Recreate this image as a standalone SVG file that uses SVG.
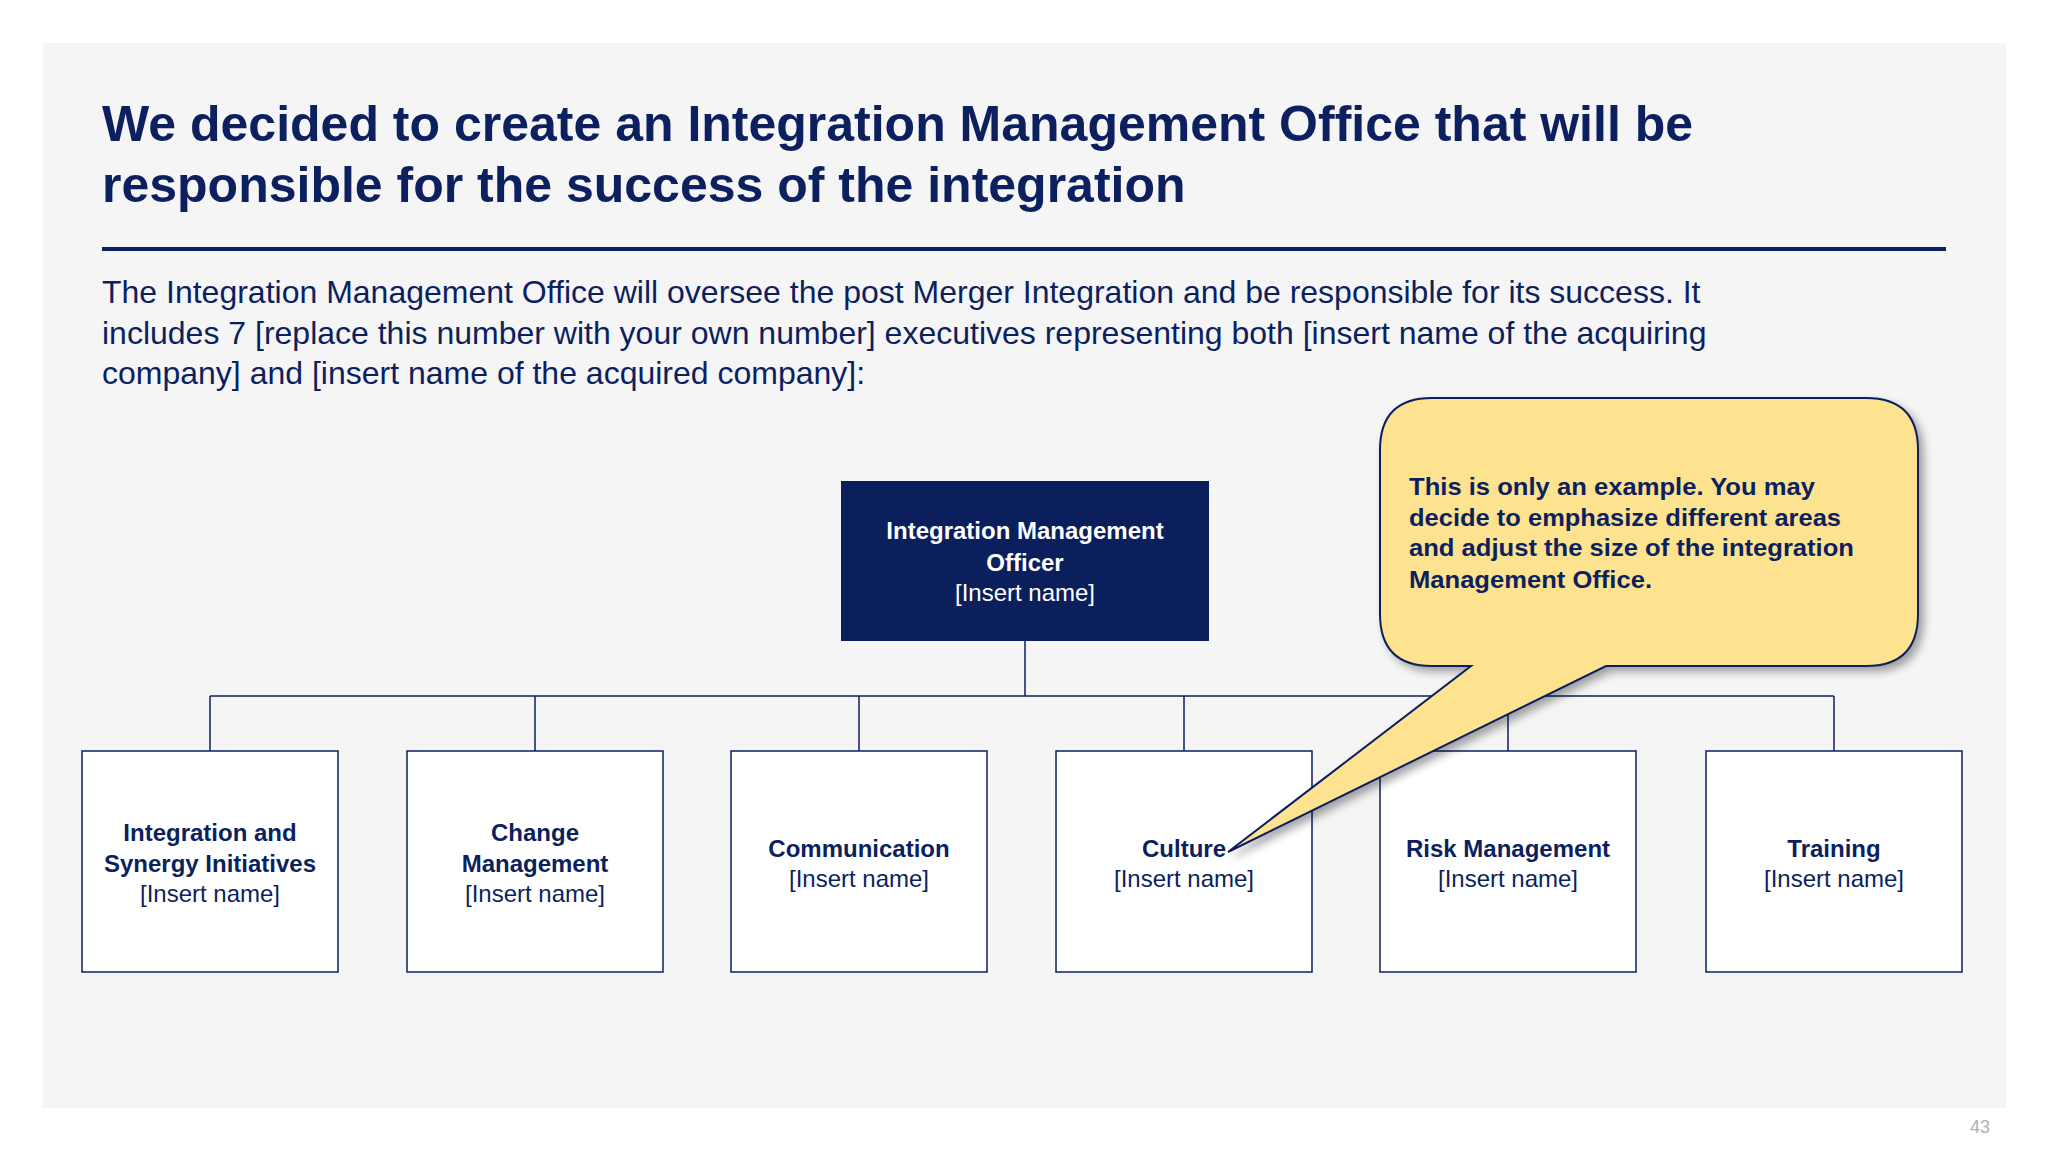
<svg xmlns="http://www.w3.org/2000/svg" width="2048" height="1152" viewBox="0 0 2048 1152">
<style>
.t{font-family:"Liberation Sans",Arial,sans-serif;fill:#0c1f5e}
.b{font-weight:bold}
.box{fill:#fff;stroke:#0c1f5e;stroke-width:1.5}
.n{font-size:24px;text-anchor:middle}
.ln{stroke:#0c1f5e;stroke-width:1.5;fill:none}
</style>
<defs><filter id="sh" x="-10%" y="-10%" width="130%" height="130%"><feDropShadow dx="5" dy="5" stdDeviation="4" flood-color="#000" flood-opacity="0.35"/></filter></defs>
<rect width="2048" height="1152" fill="#fff"/>
<rect x="43" y="43" width="1963" height="1065" fill="#f5f5f6"/>
<text class="t b" x="102" y="141" font-size="50">We decided to create an Integration Management Office that will be</text>
<text class="t b" x="102" y="202" font-size="50">responsible for the success of the integration</text>
<rect x="102" y="247" width="1844" height="4" fill="#0c1f5e"/>
<g class="t" font-size="32">
<text x="102" y="303">The Integration Management Office will oversee the post Merger Integration and be responsible for its success. It</text>
<text x="102" y="344">includes 7 [replace this number with your own number] executives representing both [insert name of the acquiring</text>
<text x="102" y="384">company] and [insert name of the acquired company]:</text>
</g>
<g id="connectors">
<path class="ln" d="M1025,641V696M210,696H1834M210,696V751M535,696V751M859,696V751M1184,696V751M1508,696V751M1834,696V751"/>
</g>
<g id="imo">
<rect x="841" y="481" width="368" height="160" fill="#0a1f5c"/>
<text class="t b n" x="1025" y="539" style="fill:#fff">Integration Management</text>
<text class="t b n" x="1025" y="571" style="fill:#fff">Officer</text>
<text class="t n" x="1025" y="601" style="fill:#fff">[Insert name]</text>
</g>
<g id="n1"><rect class="box" x="82" y="751" width="256" height="221"/>
<text class="t b n" x="210" y="841">Integration and</text><text class="t b n" x="210" y="872">Synergy Initiatives</text><text class="t n" x="210" y="902">[Insert name]</text></g>
<g id="n2"><rect class="box" x="407" y="751" width="256" height="221"/>
<text class="t b n" x="535" y="841">Change</text><text class="t b n" x="535" y="872">Management</text><text class="t n" x="535" y="902">[Insert name]</text></g>
<g id="n3"><rect class="box" x="731" y="751" width="256" height="221"/>
<text class="t b n" x="859" y="857">Communication</text><text class="t n" x="859" y="887">[Insert name]</text></g>
<g id="n4"><rect class="box" x="1056" y="751" width="256" height="221"/>
<text class="t b n" x="1184" y="857">Culture</text><text class="t n" x="1184" y="887">[Insert name]</text></g>
<g id="n5"><rect class="box" x="1380" y="751" width="256" height="221"/>
<text class="t b n" x="1508" y="857">Risk Management</text><text class="t n" x="1508" y="887">[Insert name]</text></g>
<g id="n6"><rect class="box" x="1706" y="751" width="256" height="221"/>
<text class="t b n" x="1834" y="857">Training</text><text class="t n" x="1834" y="887">[Insert name]</text></g>
<g id="callout">
<path d="M1432,398H1866Q1918,398 1918,450V614Q1918,666 1866,666H1606L1228,852L1471,666H1432Q1380,666 1380,614V450Q1380,398 1432,398Z" fill="#fde38f" stroke="#0c1f5e" stroke-width="2" filter="url(#sh)"/>
<g class="t b" font-size="24">
<text x="1409" y="495" textLength="406" lengthAdjust="spacingAndGlyphs">This is only an example. You may</text>
<text x="1409" y="526" textLength="432" lengthAdjust="spacingAndGlyphs">decide to emphasize different areas</text>
<text x="1409" y="556" textLength="445" lengthAdjust="spacingAndGlyphs">and adjust the size of the integration</text>
<text x="1409" y="588" textLength="243" lengthAdjust="spacingAndGlyphs">Management Office.</text>
</g>
</g>
<text x="1990" y="1133" font-family="Liberation Sans,Arial,sans-serif" font-size="18" fill="#b0b0b0" text-anchor="end">43</text>
</svg>
